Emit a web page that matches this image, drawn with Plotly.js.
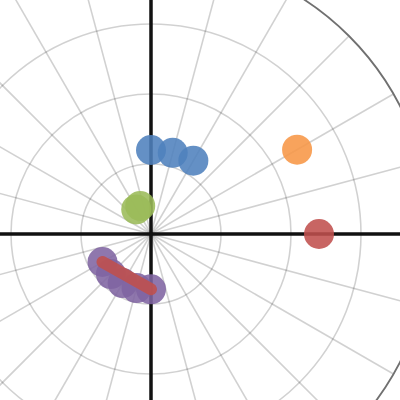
<!DOCTYPE html>
<html>
<head>
<meta charset="utf-8">
<script src="https://cdn.plot.ly/plotly-3.0.1.min.js"></script>
<style>
  html, body { margin: 0; padding: 0; width: 400px; height: 400px; overflow: hidden; background: #fff; }
  #chart { position: absolute; left: -149px; top: -66px; width: 600px; height: 600px; }
  #chart .js-line { stroke-linecap: round; }
</style>
</head>
<body>
<div id="chart"></div>
<script>
// values (r in grid units, theta in degrees)
var blueR = [1.2, 1.2, 1.21];
var blueTheta = [90, 75, 60];
var orangeR = [2.41];
var orangeTheta = [30];
var redR = [2.4];
var redTheta = [0];
var greenR = [0.41, 0.43];
var greenTheta = [121, 111];
var purpleR = [0.8, 0.81, 0.81, 0.8, 0.79];
var purpleTheta = [210, 225, 240, 255, 270];
var redLineR = [0.8, 0.79];
var redLineTheta = [210, 270];
var axisR = [4, 0, 4];
var hAxisTheta = [0, 0, 180];
var vAxisTheta = [90, 90, 270];

function pts(r, theta, color){
	return {
		type: 'scatterpolar', mode: 'markers',
		r: r, theta: theta,
		marker: {size: 30, color: color, opacity: 0.88, line: {width: 0}},
		hoverinfo: 'skip'
	};
}

var data = [
	{type: 'scatterpolar', mode: 'lines', r: axisR, theta: hAxisTheta, line: {color: '#111', width: 3.5}, hoverinfo: 'skip'},
	{type: 'scatterpolar', mode: 'lines', r: axisR, theta: vAxisTheta, line: {color: '#111', width: 3.5}, hoverinfo: 'skip'},
	pts(blueR, blueTheta, '#4F81BD'),
	pts(orangeR, orangeTheta, '#F79646'),
	pts(redR, redTheta, '#C0504D'),
	pts(greenR, greenTheta, '#9BBB59'),
	pts(purpleR, purpleTheta, '#8064A2'),
	{type: 'scatterpolar', mode: 'lines', r: redLineR, theta: redLineTheta,
		line: {color: '#C0504D', width: 12}, opacity: 0.88, hoverinfo: 'skip'}
];

var layout = {
	width: 600, height: 600,
	margin: {l: 20, r: 20, t: 20, b: 20},
	showlegend: false,
	paper_bgcolor: '#fff',
	polar: {
		bgcolor: '#fff',
		domain: {x: [0, 1], y: [0, 1]},
		radialaxis: {range: [0, 4], dtick: 1, showticklabels: false, ticks: '', showline: false,
			gridcolor: 'rgba(0,0,0,0.18)', gridwidth: 1.6},
		angularaxis: {dtick: 15, showticklabels: false, ticks: '', showline: true,
			linecolor: '#707070', linewidth: 1.8, gridcolor: 'rgba(0,0,0,0.18)', gridwidth: 1.6}
	}
};

Plotly.newPlot('chart', data, layout, {staticPlot: true});
</script>
</body>
</html>
